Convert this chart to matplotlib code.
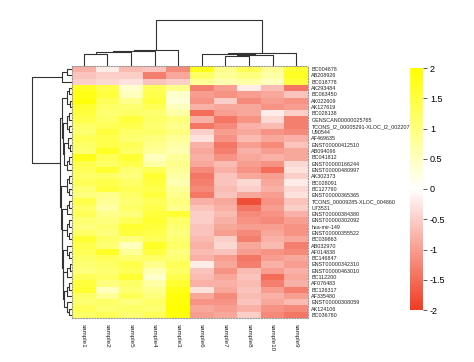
import matplotlib
matplotlib.use("Agg")
import matplotlib.pyplot as plt
import numpy as np
from matplotlib.colors import LinearSegmentedColormap

plt.rcParams["font.family"] = ["Liberation Sans", "DejaVu Sans"]

samples = ["sample1", "sample2", "sample5", "sample4", "sample3",
           "sample6", "sample7", "sample8", "sample10", "sample9"]

genes = ["BC004878", "AB208926", "BC018778", "AK293484", "BC063450",
         "AK022609", "AK127619", "BC028138", "GENSCAN00000025765",
         "TCONS_l2_00005291-XLOC_l2_002207", "U90544", "AF469635",
         "ENST00000412510", "AB094096", "BC041812", "ENST00000166244",
         "ENST00000480997", "AK302373", "BC028091", "BC127790",
         "ENST00000365365", "TCONS_00009285-XLOC_004860", "U73531",
         "ENST00000384380", "ENST00000302092", "hsa-mir-149",
         "ENST00000355522", "BC039863", "AB032970", "AF014838",
         "BC146847", "ENST00000342310", "ENST00000463010", "BC112200",
         "AF076483", "BC126317", "AF335480", "ENST00000308059",
         "AK124106", "BC036780"]

# z-scores, rows in display order, columns in display order
values = [
    [-0.8, -0.2, -0.7, -0.6, -1.2, 1.8, 0.9, 1.3, 0.8, 1.6],
    [-0.6, -0.5, -0.5, -1.3, -0.9, 1.2, 0.8, 1.0, 0.7, 1.7],
    [-0.5, -0.4, -0.3, -0.6, -0.5, 0.8, 0.6, 0.7, 0.5, 1.5],
    [1.7, 1.4, 0.4, 1.3, 0.9, -1.3, -1.0, -0.2, -0.7, -1.4],
    [1.8, 1.5, 0.5, 1.4, 0.4, -1.0, -1.1, -1.0, -0.9, -0.6],
    [1.9, 1.3, 0.9, 1.5, 0.3, -1.1, -0.5, -1.2, -1.0, -1.1],
    [1.6, 1.2, 1.1, 1.3, 0.5, -0.8, -0.9, -0.9, -1.1, -1.0],
    [1.5, 1.1, 1.2, 1.1, 0.7, -1.5, -1.0, -0.9, -0.2, -0.5],
    [1.4, 1.2, 1.5, 1.2, 1.0, -0.8, -1.4, -1.1, -0.4, -1.3],
    [1.2, 1.3, 1.4, 1.1, 0.9, -1.4, -1.2, -0.8, -0.7, -1.3],
    [1.1, 1.5, 1.2, 1.2, 1.0, -0.5, -1.0, -0.9, -1.1, -1.2],
    [1.3, 1.4, 1.1, 1.0, 0.8, -0.3, -1.1, -0.7, -0.9, -0.8],
    [1.2, 1.4, 1.3, 0.9, 0.7, -0.8, -1.4, -1.0, -1.2, -0.6],
    [1.1, 1.7, 1.2, 0.8, 0.6, -0.9, -1.3, -0.8, -1.0, -0.9],
    [1.8, 1.3, 1.6, 0.5, 0.8, -0.8, -1.1, -0.9, -0.8, -0.9],
    [1.4, 1.2, 1.4, 0.7, 0.9, -0.9, -0.7, -1.0, -1.1, -0.4],
    [1.3, 1.6, 1.1, 1.3, 0.8, -1.2, -0.8, -1.1, -1.5, -0.3],
    [1.2, 1.2, 1.0, 1.6, 0.7, -1.4, -0.6, -0.9, -1.0, -0.5],
    [1.3, 1.4, 1.2, 1.5, 0.6, -1.3, -0.6, -0.4, -0.9, -0.2],
    [1.1, 1.5, 1.3, 1.4, 0.8, -1.2, -0.7, -0.5, -0.8, -0.4],
    [1.0, 0.9, 1.2, 1.5, 0.9, -1.4, -0.6, -0.9, -1.0, -0.3],
    [1.4, 0.8, 1.1, 1.3, 1.0, -0.8, -0.9, -1.8, -1.1, -0.6],
    [1.2, 0.7, 1.2, 1.4, 0.9, -0.6, -0.8, -1.4, -1.0, -0.5],
    [1.3, 0.9, 1.0, 1.5, 1.6, -0.5, -0.7, -1.2, -1.1, -0.8],
    [1.1, 1.0, 1.3, 1.6, 1.2, -0.5, -0.8, -1.1, -1.2, -1.0],
    [1.0, 1.1, 1.6, 1.5, 1.1, -0.6, -0.9, -1.0, -1.0, -1.1],
    [1.2, 1.0, 1.5, 1.4, 1.0, -0.6, -1.0, -1.2, -0.9, -1.1],
    [1.6, 1.2, 1.0, 1.3, 1.1, -0.7, -0.5, -1.3, -0.8, -0.9],
    [1.4, 1.1, 0.5, 1.7, 1.2, -0.8, -0.4, -0.9, -0.7, -1.3],
    [1.3, 1.7, 0.8, 1.5, 1.0, -0.7, -0.6, -1.0, -1.1, -1.2],
    [1.2, 1.3, 1.1, 1.2, 1.1, -0.8, -1.0, -1.4, -1.0, -0.9],
    [1.1, 1.2, 1.4, 0.9, 1.3, -0.2, -0.9, -1.3, -0.8, -1.0],
    [1.0, 1.1, 1.3, 0.6, 1.2, -0.6, -1.1, -0.7, -1.0, -0.8],
    [1.3, 1.2, 1.6, 0.4, 1.4, -0.7, -0.9, -0.6, -1.5, -0.9],
    [1.5, 1.0, 1.2, 0.7, 1.6, -0.8, -0.8, -0.7, -1.3, -0.8],
    [1.6, 0.5, 1.1, 0.9, 1.8, -0.3, -0.9, -0.6, -1.0, -1.3],
    [1.2, 0.8, 1.3, 1.0, 1.9, -0.9, -1.2, -0.7, -0.8, -1.0],
    [1.1, 1.2, 1.0, 1.2, 1.9, -1.1, -1.1, -0.6, -0.9, -0.7],
    [1.3, 1.1, 1.2, 1.1, 2.0, -0.9, -1.0, -0.8, -1.1, -1.2],
    [1.2, 1.3, 1.1, 1.3, 1.9, -1.0, -0.9, -0.5, -1.2, -1.4],
]

# dendrograms as nested (height, left, right); leaves are display indices
col_tree = (45.0,
            (15.7, (14.7, (13.3, (11.7, 0, 1), 2), 3), 4),
            (12.3, (11.7, 5, (10.7, (10.0, 6, 7), 8)), 9))

g1 = (5.0, (3.0, 3, 4), (2.5, 5, 6))
g2 = (5.5, (2.8, 7, 8), (3.2, 9, 10))
g3 = (4.5, 11, (2.5, 12, 13))
g4 = (5.0, (3.0, 14, 15), 16)
g5 = (5.2, (2.6, 17, 18), (3.1, 19, 20))
g6 = (4.8, (2.7, 21, 22), 23)
g7 = (5.4, (3.0, 24, 25), (2.6, 26, 27))
g8 = (4.6, 28, (2.9, 29, 30))
g9 = (5.1, (2.4, 31, 32), 33)
g10 = (4.9, (3.2, 34, 35), 36)
g11 = (5.3, 37, (2.8, 38, 39))
top3 = (10.3, (5.0, 0, 1), 2)
part_a = (10.5, g1, (9.5, g2, (8.5, g3, g4)))
part_b = (11.0, g5, (10.5, g6, (10.0, g7, (9.5, g8, (9.0, g9, (8.5, g10, g11))))))
row_tree = (40.3, top3, (12.0, part_a, part_b))


def draw_tree(ax, node, vertical):
    if isinstance(node, int):
        return node + 0.5, 0.0
    h, left, right = node
    pl, hl = draw_tree(ax, left, vertical)
    pr, hr = draw_tree(ax, right, vertical)
    pos = [pl, pl, pr, pr]
    hts = [hl, h, h, hr]
    if vertical:
        ax.plot(pos, hts, color="#333333", lw=0.8, solid_capstyle="butt")
    else:
        ax.plot(hts, pos, color="#333333", lw=0.8, solid_capstyle="butt")
    return (pl + pr) / 2, h


W, H = 474, 362
fig = plt.figure(figsize=(W / 100, H / 100), dpi=100)


def box(x0, y0, x1, y1):
    return [x0 / W, 1 - y1 / H, (x1 - x0) / W, (y1 - y0) / H]


cmap = LinearSegmentedColormap.from_list("ry", ["#F03C22", "#FFFFFF", "#FFFF00"])
data = np.array(values)

ax = fig.add_axes(box(72, 66, 308, 318))
im = ax.pcolormesh(data, cmap=cmap, vmin=-2, vmax=2)
ax.set_xlim(0, len(samples))
ax.set_ylim(len(genes), 0)
ax.set_xticks(np.arange(len(samples)) + 0.5)
ax.set_xticklabels(samples, rotation=270, fontsize=4.5, color="#222222")
ax.set_yticks(np.arange(len(genes)) + 0.5)
ax.set_yticklabels(genes, fontsize=3.9, color="#222222")
ax.yaxis.tick_right()
ax.tick_params(axis="y", length=0, pad=2.5)
ax.tick_params(axis="x", length=0, pad=4)
for s in ax.spines.values():
    s.set_linestyle((0, (1, 1.5)))
    s.set_color("#999999")
    s.set_linewidth(0.8)

ax_top = fig.add_axes(box(72, 18, 308, 66))
draw_tree(ax_top, col_tree, True)
ax_top.set_xlim(0, len(samples))
ax_top.set_ylim(0, 47)
ax_top.axis("off")

ax_left = fig.add_axes(box(30, 66, 72, 318))
draw_tree(ax_left, row_tree, False)
ax_left.set_xlim(42, 0)
ax_left.set_ylim(len(genes), 0)
ax_left.axis("off")

cax = fig.add_axes(box(410, 68, 423, 310))
cb = fig.colorbar(im, cax=cax, ticks=[-2, -1.5, -1, -0.5, 0, 0.5, 1, 1.5, 2])
cb.set_ticklabels(["-2", "-1.5", "-1", "-0.5", "0", "0.5", "1", "1.5", "2"])
cb.outline.set_visible(False)
cax.tick_params(labelsize=6.5, length=3, width=0.6, color="#444444", pad=2)

fig.savefig("out.png", dpi=100)
